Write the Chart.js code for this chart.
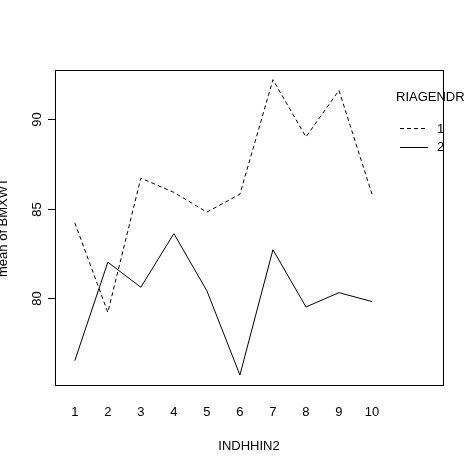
<!DOCTYPE html>
<html><head><meta charset="utf-8">
<script src="https://cdn.jsdelivr.net/npm/chart.js@4"></script>
<style>body{margin:0;background:#fff}</style>
</head><body>
<div style="width:474px;height:474px"><canvas id="c"></canvas></div>
<script>
const categories = [1, 2, 3, 4, 5, 6, 7, 8, 9, 10]
const gender1 = [84.2, 79.2, 86.7, 85.9, 84.8, 85.8, 92.2, 89.0, 91.6, 85.8]
const gender2 = [76.5, 82.0, 80.6, 83.6, 80.4, 75.7, 82.7, 79.5, 80.3, 79.8]
const yTicks = [80, 85, 90]

const rAxes = {
    id: 'rAxes',
    afterDraw(chart) {
        const ctx = chart.ctx, a = chart.chartArea
        const x = chart.scales.x, y = chart.scales.y
        ctx.save()
        ctx.strokeStyle = '#000'
        ctx.lineWidth = 1
        ctx.strokeRect(a.left + 0.5, a.top + 0.5, a.right - a.left, a.bottom - a.top)
        ctx.fillStyle = '#000'
        ctx.font = '13px "Liberation Sans", Arial'
        ctx.textAlign = 'center'
        ctx.textBaseline = 'middle'
        categories.forEach(v => {
            ctx.fillText(String(v), x.getPixelForValue(v), a.bottom + 27)
        })
        yTicks.forEach(v => {
            const py = Math.round(y.getPixelForValue(v)) + 0.5
            ctx.beginPath(); ctx.moveTo(a.left - 7, py); ctx.lineTo(a.left, py); ctx.stroke()
            ctx.save(); ctx.translate(a.left - 18, py); ctx.rotate(-Math.PI / 2)
            ctx.fillText(String(v), 0, 0); ctx.restore()
        })
        ctx.fillText('INDHHIN2', (a.left + a.right) / 2, 446)
        ctx.save(); ctx.translate(3, (a.top + a.bottom) / 2); ctx.rotate(-Math.PI / 2)
        ctx.fillText('mean of BMXWT', 0, 0); ctx.restore()
        // legend
        ctx.textAlign = 'left'
        ctx.fillText('RIAGENDR', 396, 97)
        ctx.beginPath(); ctx.setLineDash([4, 3]); ctx.moveTo(400, 128.5); ctx.lineTo(428, 128.5); ctx.stroke()
        ctx.setLineDash([]); ctx.beginPath(); ctx.moveTo(400, 147.5); ctx.lineTo(428, 147.5); ctx.stroke()
        ctx.fillText('1', 437, 129)
        ctx.fillText('2', 437, 147)
        ctx.restore()
    }
}

new Chart(document.getElementById('c'), {
    type: 'line',
    data: {
        labels: categories,
        datasets: [
            { label: '1', data: gender1, borderColor: '#000', borderWidth: 1, borderDash: [4, 3], pointRadius: 0, tension: 0 },
            { label: '2', data: gender2, borderColor: '#000', borderWidth: 1, pointRadius: 0, tension: 0 }
        ]
    },
    options: {
        responsive: true,
        maintainAspectRatio: false,
        animation: false,
        layout: { padding: { left: 55, top: 70, right: 31, bottom: 89 } },
        plugins: { legend: { display: false }, tooltip: { enabled: false } },
        scales: {
            x: { type: 'linear', display: false, min: 0.4, max: 12.15 },
            y: { display: false, min: 75.14, max: 92.74 }
        }
    },
    plugins: [rAxes]
})
</script>
</body></html>
